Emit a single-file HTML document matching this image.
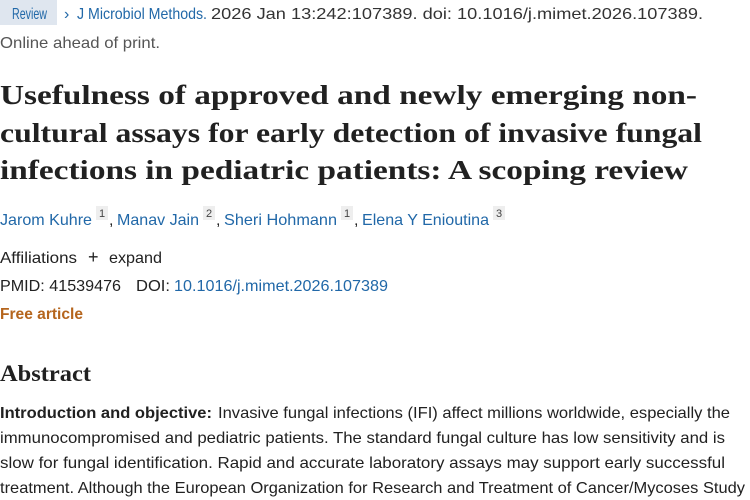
<!DOCTYPE html>
<html><head><meta charset="utf-8"><style>
html,body{margin:0;padding:0;background:#fff;width:750px;height:500px;overflow:hidden}
svg text{font-family:"Liberation Sans",sans-serif}
.s{font-family:"Liberation Serif",serif;font-weight:bold}
</style></head><body>
<svg width="750" height="500" xmlns="http://www.w3.org/2000/svg">
<rect x="0" y="0" width="57" height="25" fill="#dfe6ef"/>
<text x="12" y="19" font-size="16" fill="#2168a8" textLength="35" lengthAdjust="spacingAndGlyphs">Review</text>
<text x="64" y="19" font-size="16" fill="#2168a8">›</text>
<text x="77" y="19" font-size="16" fill="#2168a8" textLength="130" lengthAdjust="spacingAndGlyphs">J Microbiol Methods.</text>
<text x="211" y="19" font-size="16" fill="#333" textLength="492" lengthAdjust="spacingAndGlyphs">2026 Jan 13:242:107389. doi: 10.1016/j.mimet.2026.107389.</text>
<text x="0" y="48" font-size="16" fill="#555" textLength="160" lengthAdjust="spacingAndGlyphs">Online ahead of print.</text>
<text class="s" x="0" y="104" font-size="27" fill="#212121" textLength="697" lengthAdjust="spacingAndGlyphs">Usefulness of approved and newly emerging non-</text>
<text class="s" x="0" y="142" font-size="27" fill="#212121" textLength="702" lengthAdjust="spacingAndGlyphs">cultural assays for early detection of invasive fungal</text>
<text class="s" x="0" y="179" font-size="27" fill="#212121" textLength="688" lengthAdjust="spacingAndGlyphs">infections in pediatric patients: A scoping review</text>
<g font-size="16" fill="#2168a8">
<text x="0" y="225" textLength="92" lengthAdjust="spacingAndGlyphs">Jarom Kuhre</text>
<text x="117" y="225" textLength="82" lengthAdjust="spacingAndGlyphs">Manav Jain</text>
<text x="224" y="225" textLength="113" lengthAdjust="spacingAndGlyphs">Sheri Hohmann</text>
<text x="362" y="225" textLength="127" lengthAdjust="spacingAndGlyphs">Elena Y Enioutina</text>
</g>
<g fill="#eee"><rect x="96" y="206" width="12" height="14"/><rect x="203" y="206" width="12" height="14"/><rect x="341" y="206" width="12" height="14"/><rect x="493" y="206" width="12" height="14"/></g>
<g font-size="11" fill="#444"><text x="99" y="217">1</text><text x="206" y="217">2</text><text x="344" y="217">1</text><text x="496" y="217">3</text></g>
<g font-size="16" fill="#212121"><text x="109" y="225">,</text><text x="216" y="225">,</text><text x="354" y="225">,</text></g>
<text x="0" y="263" font-size="16" fill="#212121" textLength="77" lengthAdjust="spacingAndGlyphs">Affiliations</text>
<text x="88" y="263" font-size="18" fill="#212121">+</text>
<text x="109" y="263" font-size="16" fill="#212121" textLength="53" lengthAdjust="spacingAndGlyphs">expand</text>
<text x="0" y="291" font-size="16" fill="#212121" textLength="121" lengthAdjust="spacingAndGlyphs">PMID: 41539476</text>
<text x="136" y="291" font-size="16" fill="#212121" textLength="34" lengthAdjust="spacingAndGlyphs">DOI:</text>
<text x="174" y="291" font-size="16" fill="#2168a8" textLength="214" lengthAdjust="spacingAndGlyphs">10.1016/j.mimet.2026.107389</text>
<text x="0" y="319" font-size="16" font-weight="bold" fill="#b5651d" textLength="83" lengthAdjust="spacingAndGlyphs">Free article</text>
<text class="s" x="0" y="381" font-size="23" fill="#212121" textLength="91" lengthAdjust="spacingAndGlyphs">Abstract</text>
<g font-size="16" fill="#212121">
<text x="0" y="418" font-weight="bold" textLength="212" lengthAdjust="spacingAndGlyphs">Introduction and objective:</text>
<text x="218" y="418" textLength="512" lengthAdjust="spacingAndGlyphs">Invasive fungal infections (IFI) affect millions worldwide, especially the</text>
<text x="0" y="443" textLength="725" lengthAdjust="spacingAndGlyphs">immunocompromised and pediatric patients. The standard fungal culture has low sensitivity and is</text>
<text x="0" y="468" textLength="725" lengthAdjust="spacingAndGlyphs">slow for fungal identification. Rapid and accurate laboratory assays may support early successful</text>
<text x="0" y="493" textLength="745" lengthAdjust="spacingAndGlyphs">treatment. Although the European Organization for Research and Treatment of Cancer/Mycoses Study</text>
</g>
</svg>
</body></html>
